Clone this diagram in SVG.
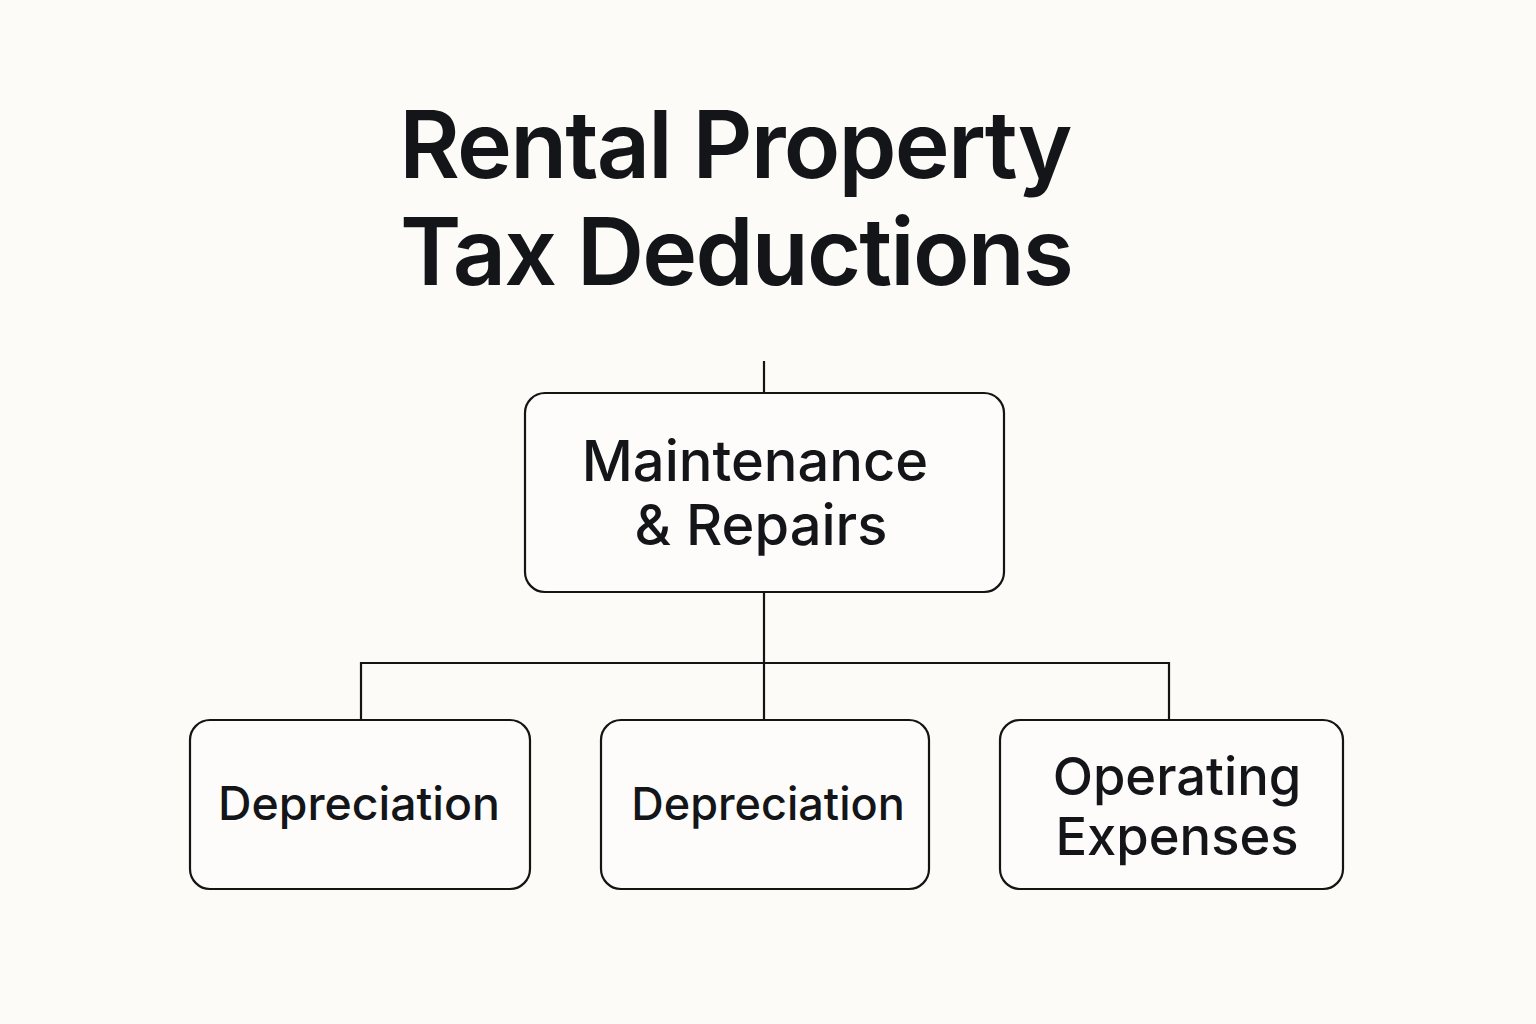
<svg xmlns="http://www.w3.org/2000/svg" width="1536" height="1024" viewBox="0 0 1536 1024">
<style>
.bg{fill:#fcfbf8}
.box{fill:#fdfcfa;stroke:#141414;stroke-width:2.2}
.ln{fill:none;stroke:#141414;stroke-width:2.2}
.t{font-family:Inter,"Liberation Sans",sans-serif;fill:#131519;text-anchor:middle;font-weight:500}
.title{font-size:93px;font-weight:600;letter-spacing:-1.8px}
.lbl{font-size:56px}
</style>
<rect class="bg" x="0" y="0" width="1536" height="1024"/>
<text class="t title" x="735" y="178">Rental Property</text>
<text class="t title" x="736" y="285" letter-spacing="-3.7">Tax Deductions</text>
<g id="connectors">
<path class="ln" d="M764 361V393"/>
<path class="ln" d="M764 592V720"/>
<path class="ln" d="M361 720V663H1169V720"/>
</g>
<g id="node-maintenance">
<rect class="box" x="525" y="393" width="479" height="199" rx="20"/>
<text class="t lbl" x="755" y="481">Maintenance</text>
<text class="t lbl" x="761" y="545">&amp; Repairs</text>
</g>
<g id="node-depreciation-1">
<rect class="box" x="190" y="720" width="340" height="169" rx="20"/>
<text class="t" x="359" y="820" font-size="46.4">Depreciation</text>
</g>
<g id="node-depreciation-2">
<rect class="box" x="601" y="720" width="328" height="169" rx="20"/>
<text class="t" x="768" y="820" font-size="45">Depreciation</text>
</g>
<g id="node-operating">
<rect class="box" x="1000" y="720" width="343" height="169" rx="20"/>
<text class="t" x="1177" y="795" font-size="52.5">Operating</text>
<text class="t" x="1177" y="855" font-size="52.5">Expenses</text>
</g>
</svg>
